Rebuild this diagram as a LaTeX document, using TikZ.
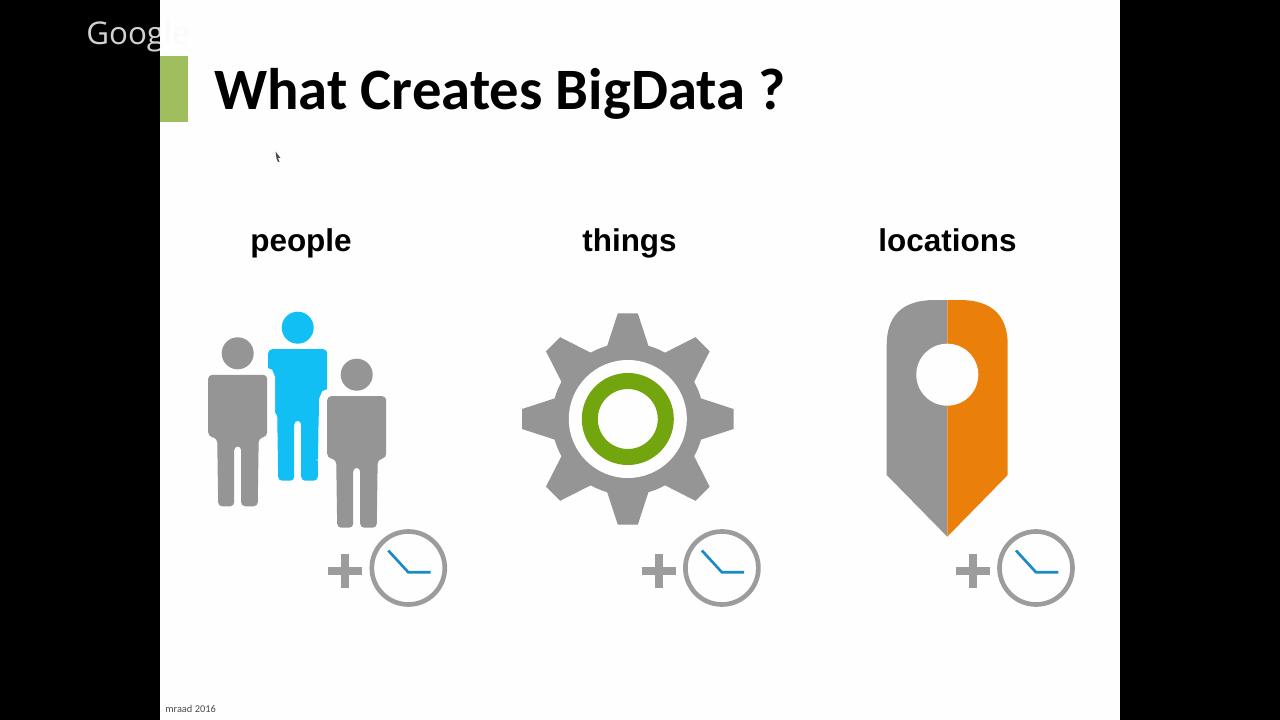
\documentclass[tikz,border=0pt]{standalone}
\usepackage{fontspec}
\setmainfont{Carlito}
\newfontfamily\labelfont{Liberation Sans}
\newfontfamily\logofont{Open Sans}
\usetikzlibrary{positioning}
\definecolor{iconGray}{HTML}{959595}
\definecolor{clockGray}{HTML}{9C9C9C}
\definecolor{peopleBlue}{HTML}{12BFF5}
\definecolor{gearGreen}{HTML}{72A50E}
\definecolor{pinOrange}{HTML}{EA7F0A}
\definecolor{barGreen}{HTML}{9FBF5F}
\definecolor{handBlue}{HTML}{1B8AC4}
\definecolor{slideWhite}{HTML}{FEFEFE}
\tikzset{
  title/.style={
    font=\bfseries\fontsize{44}{50}\selectfont,
    anchor=base west,
    inner sep=0pt,
    text=black
  },
  heading/.style={
    font=\labelfont\bfseries\fontsize{23.6}{28}\selectfont,
    anchor=base,
    inner sep=0pt,
    text=black
  },
  pics/person/.style={
    code={
      \path[fill=#1, rounded corners=3pt, preaction={draw=slideWhite, line width=12pt}]
        (-29.5,21.5) -- (29.5,21.5) -- (29.5,83) -- (21,85) -- (20,153) -- (3.5,153)
        -- (3.5,93) -- (-3.5,93) -- (-3.5,153) -- (-19.5,153) -- (-20.5,85) -- (-29.5,83) -- cycle;
      \fill[#1] (0,0) circle[radius=16];
    }
  },
  pics/timer/.style={
    code={
      \draw[clockGray, line width=3.5pt] (0,0) circle[radius=36.5];
      \draw[handBlue, line width=2pt] (-20,-17.5) -- (0,4.3) -- (22.3,4.3);
      \fill[clockGray] (-80.3,-1.3) rectangle (-46.3,6.7);
      \fill[clockGray] (-67.3,-14.3) rectangle (-59.3,19.7);
    }
  }
}
\begin{document}
\begin{tikzpicture}[x=0.75pt, y=-0.75pt]
\useasboundingbox (0,0) rectangle (1280,720);

% slide
\fill[black] (0,0) rectangle (1280,720);
\fill[slideWhite] (160,0) rectangle (1120,720);

% logo
\node[anchor=base west, inner sep=0pt, text=black!18, font=\logofont\fontsize{23.5}{28}\selectfont] (logo) at (86,45) {Google};
\fill[slideWhite, opacity=.92] (160,10) rectangle (200,54);

% title
\fill[barGreen] (160,56) rectangle (188,122);
\node[title] (headline) at (214,110) {What Creates BigData ?};
\fill[black!70] (275.5,151.5) -- (280.5,158) -- (278,158) -- (279.5,162) -- (278,162) -- (276.5,158.5) -- cycle;

% labels
\node[heading] (people) at (301,252) {people};
\node[heading] (things) at (629.5,252) {things};
\node[heading] (locations) at (947.5,252) {locations};

% people
\pic at (297.7,327.7) {person=peopleBlue};
\pic at (237.7,353.3) {person=iconGray};
\pic at (356.7,374.7) {person=iconGray};

% gear
\foreach \a in {0,45,...,315}{
  \fill[iconGray, shift={(627.8,419)}, rotate=\a]
    (-21,-72) -- (-10,-105.7) -- (10,-105.7) -- (21,-72) -- cycle;
}
\fill[iconGray] (627.8,419) circle[radius=76];
\fill[slideWhite] (627.8,419) circle[radius=59];
\draw[gearGreen, line width=12pt] (627.8,419) circle[radius=38];

% pin
\fill[iconGray] (947.3,300) -- (935,300) .. controls (902,300) and (886.7,316) .. (886.7,345)
  -- (886.7,475) -- (947.3,536.7) -- cycle;
\fill[pinOrange] (947.3,300) -- (959.6,300) .. controls (992.6,300) and (1007.7,316) .. (1007.7,345)
  -- (1007.7,475) -- (947.3,536.7) -- cycle;
\fill[slideWhite] (947.3,374.7) circle[radius=31];

% clocks
\pic at (408.3,568) {timer};
\pic at (721.9,568) {timer};
\pic at (1036,568) {timer};

% footer
\node[anchor=west, inner sep=0pt, text=black!70, font=\fontsize{7.8}{9}\selectfont] (credit) at (165,708.5) {mraad 2016};
\end{tikzpicture}
\end{document}
